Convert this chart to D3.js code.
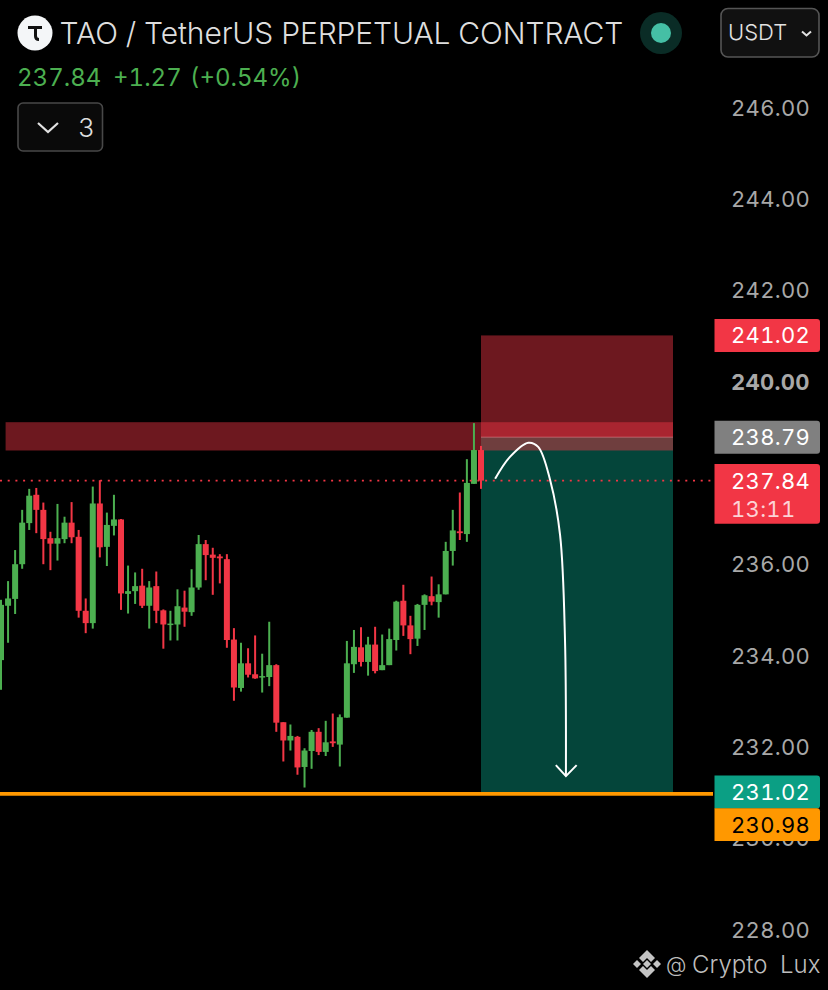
<!DOCTYPE html>
<html>
<head>
<meta charset="utf-8">
<script src="https://cdn.jsdelivr.net/npm/d3@7"></script>
<style>
  html, body { margin: 0; padding: 0; background: #000; }
  svg { display: block; }
  text { font-family: Inter, "Noto Sans", sans-serif; font-variant-numeric: tabular-nums; }
</style>
</head>
<body>
<div id="chart"></div>
<script>
// candles
var opens = [233.91,235.10,235.25,236.01,236.91,237.53,237.20,236.58,236.46,236.56,236.92,236.61,234.99,234.72,237.34,236.39,236.85,236.99,235.36,235.42,235.54,235.10,235.53,235.00,234.68,234.69,235.06,234.96,235.50,236.45,236.22,236.18,236.12,234.36,233.30,233.84,233.60,233.53,233.54,233.80,232.55,232.15,232.23,231.57,231.92,232.34,231.90,232.13,232.06,232.65,233.82,234.19,233.87,234.25,233.69,233.80,234.35,235.21,234.67,234.38,235.12,235.31,235.18,235.35,236.30,236.73,236.67,237.77,238.51];
var highs = [235.23,235.64,236.32,237.20,237.66,237.68,237.36,236.72,237.33,237.05,237.37,236.76,235.26,237.71,237.85,237.14,237.53,237.00,235.98,235.83,235.91,235.64,235.85,235.02,234.99,235.46,235.43,235.90,236.65,236.54,236.37,236.23,236.23,234.61,234.29,234.17,234.45,234.05,234.75,233.82,232.55,232.50,232.25,231.98,232.38,232.42,232.58,232.74,232.72,234.33,234.57,234.63,234.42,234.64,234.47,234.60,235.21,235.56,234.88,235.14,235.35,235.74,235.57,236.50,237.20,237.58,238.31,239.10,238.60];
var lows = [233.26,234.29,234.92,235.91,236.76,236.69,236.01,235.88,236.09,236.47,236.47,234.84,234.50,234.60,236.16,235.97,236.64,235.01,234.93,235.14,235.05,234.60,234.72,234.16,234.34,234.34,234.64,234.88,235.45,235.66,235.34,235.59,234.18,233.02,233.22,233.53,233.50,233.20,233.34,232.34,231.69,231.93,231.40,231.12,231.53,231.83,231.81,232.01,231.58,232.65,233.63,233.77,233.57,233.62,233.69,233.80,234.12,234.44,234.04,234.22,234.57,235.11,234.84,235.35,235.98,236.54,236.50,237.77,237.66];
var closes = [235.12,235.26,236.01,236.92,237.51,237.20,236.56,236.46,236.58,236.92,236.60,234.99,234.72,237.34,236.38,236.87,236.99,235.37,235.42,235.53,235.10,235.50,234.99,234.69,234.71,235.09,234.97,235.50,236.45,236.21,236.15,236.14,234.35,233.31,233.84,233.59,233.51,233.56,233.80,232.54,232.15,232.25,231.56,231.93,232.34,231.90,232.11,232.09,232.66,233.84,234.20,233.87,234.25,233.67,233.80,234.37,235.19,234.67,234.37,235.12,235.33,235.19,235.35,236.30,236.75,236.69,237.79,238.51,237.84];

// 238 sits under the last price tag, so it is left out
var yTicks = [228,230,232,234,236,240,242,244,246];

// price levels of the drawn tools
var stopPrice = 241.02, entryPrice = 238.79, targetPrice = 231.02, lastPrice = 237.84, linePrice = 230.98;
var bandPrices = [239.12, 238.50];
var toolIndex = [68, 95.2];
var bandIndex = [0.65, 95.2];

// hand drawn arrow on the chart
var arrowIndex = [70.0,72.1,74.7,76.1,77.8,79.2,79.9,80.03];
var arrowPrice = [237.88,238.36,238.67,238.58,237.85,236.65,234.35,231.37];
var headIndex = [78.6,80.03,81.55];
var headPrice = [231.61,231.37,231.61];

var width = 828, height = 990;
var green = "#4caf50", red = "#f23645";

var x = d3.scaleLinear().domain([0, 68]).range([1, 481]);
var y = d3.scaleLinear().domain([228, 246]).range([930, 108]);

var svg = d3.select("#chart").append("svg")
    .attr("width", width)
    .attr("height", height);

svg.append("rect").attr("width", width).attr("height", height).attr("fill", "#000");

// position tool
svg.append("rect")
    .attr("x", x(toolIndex[0]))
    .attr("width", x(toolIndex[1]) - x(toolIndex[0]))
    .attr("y", y(stopPrice))
    .attr("height", y(entryPrice) - y(stopPrice))
    .attr("fill", "rgba(242,54,69,0.45)");
svg.append("rect")
    .attr("x", x(toolIndex[0]))
    .attr("width", x(toolIndex[1]) - x(toolIndex[0]))
    .attr("y", y(entryPrice))
    .attr("height", y(targetPrice) - y(entryPrice))
    .attr("fill", "rgba(8,153,129,0.45)");
svg.append("line")
    .attr("x1", x(toolIndex[0]))
    .attr("x2", x(toolIndex[1]))
    .attr("y1", y(entryPrice))
    .attr("y2", y(entryPrice))
    .attr("stroke", "rgba(255,255,255,0.3)")
    .attr("stroke-width", 1.5);

// resistance band
svg.append("rect")
    .attr("x", x(bandIndex[0]))
    .attr("width", x(bandIndex[1]) - x(bandIndex[0]))
    .attr("y", y(bandPrices[0]))
    .attr("height", y(bandPrices[1]) - y(bandPrices[0]))
    .attr("fill", "rgba(242,54,69,0.45)");

// candles
var candle = svg.append("g").selectAll("g")
    .data(opens)
    .enter()
    .append("g")
    .attr("fill", function(d, i) { return closes[i] >= opens[i] ? green : red; });

candle.append("rect")
    .attr("x", function(d, i) { return x(i) - 1; })
    .attr("width", 2)
    .attr("y", function(d, i) { return y(highs[i]); })
    .attr("height", function(d, i) { return y(lows[i]) - y(highs[i]); });

candle.append("rect")
    .attr("x", function(d, i) { return x(i) - 3; })
    .attr("width", 6)
    .attr("y", function(d, i) { return y(Math.max(opens[i], closes[i])); })
    .attr("height", function(d, i) { return Math.max(1.5, Math.abs(y(opens[i]) - y(closes[i]))); });

// last price line
svg.append("line")
    .attr("x1", 0).attr("x2", 713)
    .attr("y1", y(lastPrice)).attr("y2", y(lastPrice))
    .attr("stroke", red)
    .attr("stroke-width", 1.8)
    .attr("stroke-dasharray", "2,5.7");

// orange horizontal line
svg.append("line")
    .attr("x1", 0).attr("x2", 713)
    .attr("y1", y(linePrice)).attr("y2", y(linePrice))
    .attr("stroke", "#ff9800")
    .attr("stroke-width", 3.8);

// arrow
var arrowLine = d3.line()
    .x(function(d) { return x(d[0]); })
    .y(function(d) { return y(d[1]); });

svg.append("path")
    .attr("d", arrowLine.curve(d3.curveCatmullRom)(d3.zip(arrowIndex, arrowPrice)))
    .attr("fill", "none")
    .attr("stroke", "#fff")
    .attr("stroke-width", 2);
svg.append("path")
    .attr("d", arrowLine.curve(d3.curveLinear)(d3.zip(headIndex, headPrice)))
    .attr("fill", "none")
    .attr("stroke", "#fff")
    .attr("stroke-width", 2);

// price axis
var axis = svg.append("g")
    .attr("transform", "translate(731,0)")
    .call(d3.axisRight(y).tickValues(yTicks).tickFormat(d3.format(".2f")).tickSize(0).tickPadding(0));
axis.select(".domain").remove();
axis.selectAll("text")
    .attr("font-size", 22)
    .style("font-family", "Inter, sans-serif")
    .style("letter-spacing", "0.3px")
    .attr("fill", "#a8a8a8")
    .attr("font-weight", function(d) { return d == 240 ? 700 : 400; });

// price tags, flat on the left and rounded on the right
function tag(top, bottom, fill) {
    var path = d3.path(), l = 714.5, r = 820, c = 3;
    path.moveTo(l, top);
    path.lineTo(r - c, top);
    path.arcTo(r, top, r, top + c, c);
    path.lineTo(r, bottom - c);
    path.arcTo(r, bottom, r - c, bottom, c);
    path.lineTo(l, bottom);
    path.closePath();
    svg.append("path").attr("d", path.toString()).attr("fill", fill);
}
function tagText(txt, cy, fill) {
    svg.append("text")
        .attr("x", 731).attr("y", cy)
        .attr("dy", "0.36em")
        .attr("font-size", 22)
        .style("letter-spacing", "0.3px")
        .attr("fill", fill)
        .text(txt);
}

tag(y(stopPrice) - 16.5, y(stopPrice) + 16.5, red);
tagText(d3.format(".2f")(stopPrice), y(stopPrice), "#fff");
tag(y(entryPrice) - 16.5, y(entryPrice) + 16.5, "#808080");
tagText(d3.format(".2f")(entryPrice), y(entryPrice), "#fff");
tag(y(lastPrice) - 16.7, y(lastPrice) + 43, red);
tagText(d3.format(".2f")(lastPrice), y(lastPrice), "#fff");
tagText("13:11", y(lastPrice) + 28, "rgba(255,255,255,0.78)");
tag(775.4, 808.4, "#0b9f84");
tagText(d3.format(".2f")(targetPrice), 792, "#fff");
tag(808.2, 841, "#ff9800");
tagText(d3.format(".2f")(linePrice), 825, "#000");

// header
svg.append("circle").attr("cx", 35).attr("cy", 33).attr("r", 17.5).attr("fill", "#f4f6f8");
svg.append("path")
    .attr("d", "M28 27.5 H42 M35.5 27.5 V36 Q35.5 39.5 39 39.5")
    .attr("fill", "none").attr("stroke", "#111").attr("stroke-width", 3);

svg.append("text")
    .attr("x", 59.5).attr("y", 44)
    .attr("font-size", 30)
    .attr("font-weight", 300)
    .style("letter-spacing", "-0.1px")
    .attr("fill", "#dedede")
    .text("TAO / TetherUS PERPETUAL CONTRACT");

var quote = [["237.84", 17], ["+1.27", 113], ["(+0.54%)", 190]];
svg.selectAll(".quote")
    .data(quote)
    .enter()
    .append("text")
    .attr("class", "quote")
    .attr("x", function(d) { return d[1]; })
    .attr("y", 86)
    .attr("font-size", 24)
    .attr("fill", green)
    .text(function(d) { return d[0]; });

svg.append("rect")
    .attr("x", 18).attr("y", 103).attr("width", 84.5).attr("height", 48).attr("rx", 5)
    .attr("fill", "#0a0a0a").attr("stroke", "#484848").attr("stroke-width", 1.6);
svg.append("path")
    .attr("d", "M38 123 L48 132 L58 123")
    .attr("fill", "none").attr("stroke", "#e2e2e2").attr("stroke-width", 2.2);
svg.append("text")
    .attr("x", 78).attr("y", 137)
    .attr("font-size", 26).attr("font-weight", 300).attr("fill", "#dedede")
    .text("3");

svg.append("circle").attr("cx", 661).attr("cy", 33).attr("r", 21).attr("fill", "#0a2c26");
svg.append("circle").attr("cx", 661).attr("cy", 33).attr("r", 10).attr("fill", "#45bfa5");

svg.append("rect")
    .attr("x", 721).attr("y", 8.5).attr("width", 98).attr("height", 48.5).attr("rx", 7)
    .attr("fill", "#111").attr("stroke", "#555").attr("stroke-width", 1.6);
svg.append("text")
    .attr("x", 728).attr("y", 40)
    .attr("font-size", 22).attr("font-weight", 300).attr("fill", "#e2e2e2")
    .text("USDT");
svg.append("path")
    .attr("d", "M802 31.5 L806.5 35.5 L811 31.5")
    .attr("fill", "none").attr("stroke", "#e2e2e2").attr("stroke-width", 2);

// watermark
svg.append("path")
    .attr("d", "M647 950 L655 958 L651 962 L647 958 L643 962 L639 958 Z M647 978 L655 970 L651 966 L647 970 L643 966 L639 970 Z M647 960 L651 964 L647 968 L643 964 Z M637 960 L641 964 L637 968 L633 964 Z M657 960 L661 964 L657 968 L653 964 Z")
    .attr("fill", "#c4c4c4");
svg.append("text")
    .attr("x", 666).attr("y", 972)
    .attr("font-size", 21).attr("font-weight", 300).attr("fill", "#bdbdbd")
    .text("@");
svg.append("text")
    .attr("x", 692).attr("y", 973)
    .attr("font-size", 24).attr("font-weight", 300).attr("fill", "#bdbdbd")
    .text("Crypto");
svg.append("text")
    .attr("x", 780).attr("y", 973)
    .attr("font-size", 24).attr("font-weight", 300).attr("fill", "#bdbdbd")
    .text("Lux");
</script>
</body>
</html>
